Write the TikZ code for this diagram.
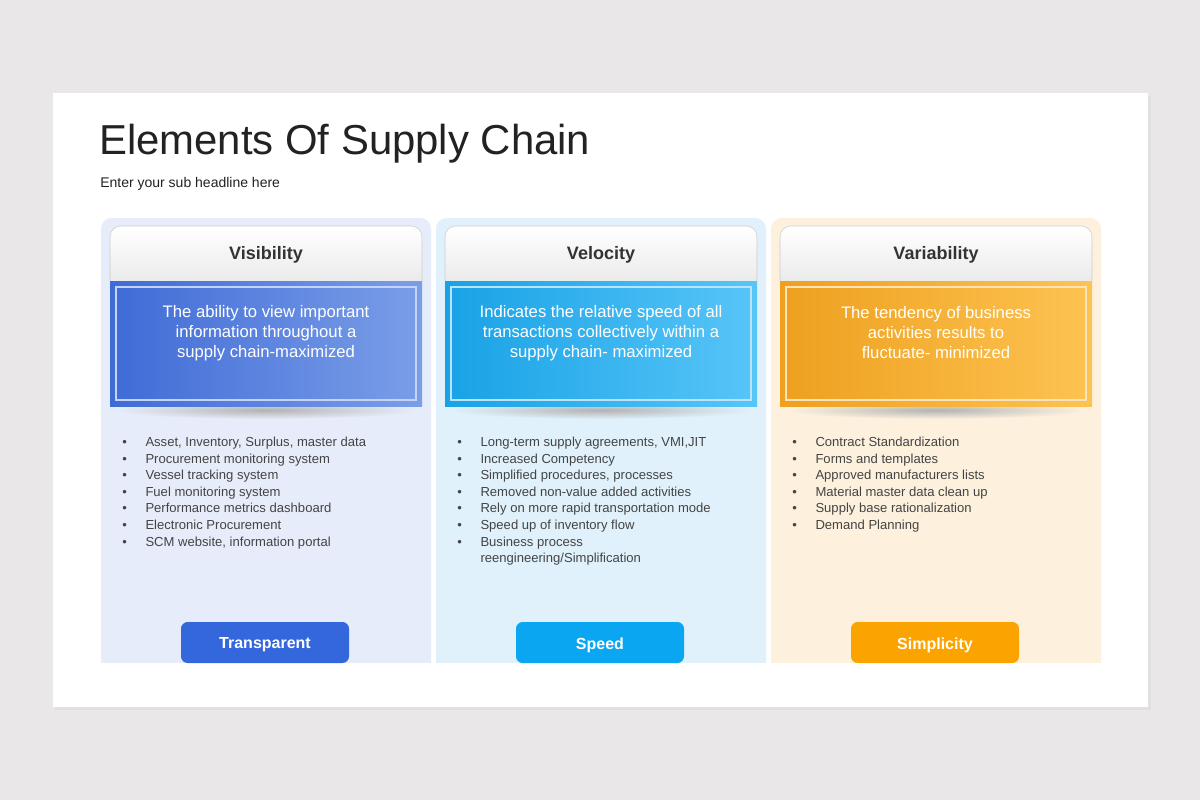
\documentclass[tikz,border=0pt]{standalone}
\usepackage{fontspec}
\setmainfont{Liberation Sans}
\usetikzlibrary{positioning}
\definecolor{pagebg}{HTML}{E9E7E8}
\definecolor{titlegray}{HTML}{222222}
\definecolor{textgray}{HTML}{444444}
\definecolor{panelA}{HTML}{E6ECF9}
\definecolor{panelB}{HTML}{E0F1FB}
\definecolor{panelC}{HTML}{FDF1DE}
\definecolor{boxAl}{HTML}{3F6BD6}
\definecolor{boxAr}{HTML}{7B9EE8}
\definecolor{boxBl}{HTML}{18A2E6}
\definecolor{boxBr}{HTML}{58C5F8}
\definecolor{boxCl}{HTML}{EEA01E}
\definecolor{boxCr}{HTML}{FDC352}
\definecolor{tabA}{HTML}{3467DC}
\definecolor{tabB}{HTML}{0AA6F2}
\definecolor{tabC}{HTML}{FBA300}
\tikzset{
	headbox/.style={draw=black!20, top color=white, bottom color=black!8,
		rounded corners=8pt},
	headtxt/.style={font=\fontsize{13.5}{16}\selectfont\bfseries, text=black!80},
	boxtxt/.style={font=\fontsize{12.5}{15}\selectfont, text=white, align=center},
	listtxt/.style={font=\fontsize{9.8}{12.4}\selectfont, text=textgray, anchor=north west, inner sep=0pt},
	tabtxt/.style={font=\fontsize{12}{14}\selectfont\bfseries, text=white}
}
\begin{document}
\begin{tikzpicture}[x=0.75pt,y=-0.75pt]
	% page and slide
	\fill[pagebg] (0,0) rectangle (1200,800);
	\fill[black!12] (55,96) rectangle (1151,710);
	\fill[white] (53,93) rectangle (1148,707);
	\useasboundingbox (0,0) rectangle (1200,800);
	
	% title
	\node[anchor=west, inner sep=0pt, font=\fontsize{31.4}{36}\selectfont, text=titlegray] (title) at (99,144) {Elements Of Supply Chain};
	\node[anchor=west, inner sep=0pt, font=\fontsize{10.5}{12}\selectfont, text=titlegray] (sub) at (100,184) {Enter your sub headline here};
	
	% three columns
	\foreach \x/\pan/\bl/\br/\tab/\head/\body/\foot [count=\i] in {
		101/panelA/boxAl/boxAr/tabA/Visibility/{The ability to view important\\information throughout a\\supply chain-maximized}/Transparent,
		436/panelB/boxBl/boxBr/tabB/Velocity/{Indicates the relative speed of all\\transactions collectively within a\\supply chain- maximized}/Speed,
		771/panelC/boxCl/boxCr/tabC/Variability/{The tendency of business\\activities results to\\fluctuate- minimized}/Simplicity}{
		\fill[\pan, rounded corners=8pt] (\x,218) rectangle ++(330,460);
		\fill[white] (\x-2,663) rectangle ++(334,20);
		% shadow under coloured box
		\shade[inner color=black!30, outer color=\pan] (\x+165,410) ellipse (150 and 9);
		\draw[headbox] (\x+9,281) -- ++(0,-55) -- ++(312,0) -- ++(0,55);
		\node[headtxt] (head\i) at (\x+165,255) {\head};
		\shade[left color=\bl, right color=\br] (\x+9,281) rectangle ++(312,125);
		\draw[white!70!\bl, line width=0.8pt] (\x+15,287) rectangle ++(300,113);
		\node[boxtxt] (body\i) at (\x+165,333) {\body};
		\fill[\tab, rounded corners=5pt] (\x+80,663) -- ++(0,-41) -- ++(168,0) -- ++(0,41) -- cycle;
		\node[tabtxt] (foot\i) at (\x+164,645) {\foot};
	}
	
	% bullet lists
	\node[listtxt] (listA) at (122,435) {\begin{tabular}{@{}l@{\hspace{14pt}}l@{}}
		•&Asset, Inventory, Surplus, master data\\
		•&Procurement  monitoring system\\
		•&Vessel tracking system\\
		•&Fuel monitoring system\\
		•&Performance metrics dashboard\\
		•&Electronic Procurement\\
		•&SCM website, information portal
	\end{tabular}};
	\node[listtxt] (listB) at (457,435) {\begin{tabular}{@{}l@{\hspace{14pt}}l@{}}
		•&Long-term supply agreements, VMI,JIT\\
		•&Increased Competency\\
		•&Simplified procedures,  processes\\
		•&Removed non-value added activities\\
		•&Rely on more rapid transportation mode\\
		•&Speed up of inventory flow\\
		•&Business process\\
		&reengineering/Simplification
	\end{tabular}};
	\node[listtxt] (listC) at (792,435) {\begin{tabular}{@{}l@{\hspace{14pt}}l@{}}
		•&Contract Standardization\\
		•&Forms and templates\\
		•&Approved manufacturers lists\\
		•&Material master data clean up\\
		•&Supply base rationalization\\
		•&Demand Planning
	\end{tabular}};
\end{tikzpicture}
\end{document}
